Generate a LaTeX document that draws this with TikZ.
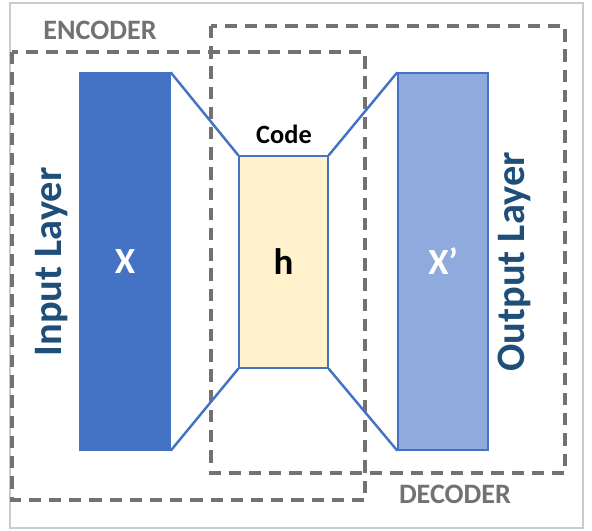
\documentclass[tikz,border=0pt]{standalone}
\usepackage{fontspec}
\setmainfont{Carlito}
\usetikzlibrary{positioning}
\definecolor{inblue}{RGB}{68,114,196}
\definecolor{outblue}{RGB}{143,170,220}
\definecolor{codefill}{RGB}{255,242,204}
\definecolor{labblue}{RGB}{31,78,121}
\definecolor{boxgray}{RGB}{118,113,113}
\definecolor{framegray}{RGB}{200,204,212}

\begin{document}
\begin{tikzpicture}[line cap=butt,line join=miter,x=0.02cm,y=-0.02cm,
  layer/.style={draw=inblue,line width=0.8pt,minimum width=1.8cm,minimum height=7.54cm,inner sep=0pt},
  frame/.style={draw=boxgray,line width=2.2pt,dash pattern=on 7pt off 4.5pt},
  link/.style={draw=inblue,line width=1.4pt},
  sidelab/.style={rotate=90,text=labblue,font=\fontsize{23}{27}\selectfont\bfseries},
  boxlab/.style={text=boxgray,font=\fontsize{16}{19}\selectfont\bfseries}]
      \useasboundingbox (0,0) rectangle (592,531);
      \draw[framegray,line width=0.8pt] (10,3) rectangle (583,528);
      % frames
      \draw[frame] (12,52) rectangle (365,500);
      \draw[frame] (211,26) rectangle (565,473);
      \node[boxlab] (enc) at (100,30) {ENCODER};
      \node[boxlab] (dec) at (455,494) {DECODER};
      % layers
      \node[layer,fill=inblue] (x) at (125,261.5) {};
      \node[layer,fill=outblue] (xp) at (443,261.5) {};
      \node[draw=inblue,line width=0.8pt,fill=codefill,minimum width=1.78cm,minimum height=4.24cm,inner sep=0pt] (h) at (283.5,262) {};
      \draw[link] (x.north east) -- (h.north west);
      \draw[link] (x.south east) -- (h.south west);
      \draw[link] (h.north east) -- (xp.north west);
      \draw[link] (h.south east) -- (xp.south west);
      % labels
      \node[text=white,font=\fontsize{21}{24}\selectfont\bfseries] (xl) at (x) {X};
      \node[text=white,font=\fontsize{21}{24}\selectfont\bfseries] (xpl) at (xp) {X’};
      \node[font=\fontsize{21}{24}\selectfont\bfseries] (hl) at (h) {h};
      \node[font=\fontsize{15}{18}\selectfont\bfseries] (code) at (284,134) {Code};
      \node[sidelab] (inl) at (52,262) {Input Layer};
      \node[sidelab] (outl) at (514,262) {Output Layer};
\end{tikzpicture}
\end{document}
